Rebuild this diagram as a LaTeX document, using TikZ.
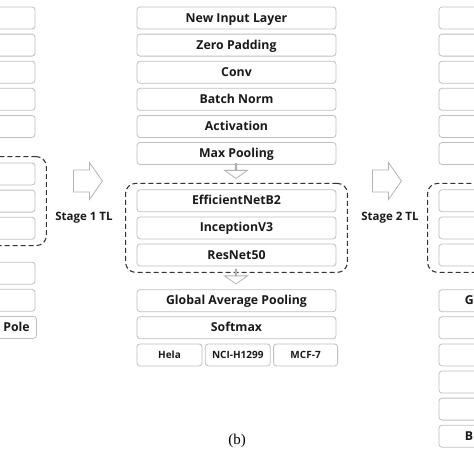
\documentclass[tikz,border=0pt]{standalone}
\usepackage{fontspec}
\setmainfont{Open Sans}
\newfontfamily\capfont{Liberation Serif}
\usetikzlibrary{positioning,fit,shapes.arrows}

\begin{document}
\begin{tikzpicture}[x=1pt,y=-1pt,node distance=4.3pt,
		layer/.style={draw=gray!50,line width=0.8pt,rounded corners=3pt,minimum width=199pt,minimum height=22pt,inner sep=0pt,text height=8.6pt,text depth=0.6pt,font=\bfseries\fontsize{12.3}{14}\selectfont,text=black!90},
		cell/.style={layer,minimum width=65pt,text height=7pt,text depth=0.5pt,font=\bfseries\fontsize{10}{12}\selectfont},
		part/.style={inner sep=0pt,text height=8.6pt,text depth=0.6pt,font=\bfseries\fontsize{12.3}{14}\selectfont,text=black!90},
		stagebox/.style={draw=black!80,line width=1.1pt,dash pattern=on 5pt off 3pt,rounded corners=10pt,inner xsep=11pt,inner ysep=6pt},
		stagelabel/.style={font=\bfseries\fontsize{11.5}{13}\selectfont,text=black!90},
		bigarrow/.style={single arrow,draw=gray!60,line width=0.8pt,inner xsep=0pt,inner ysep=10pt,minimum height=29pt,minimum width=37pt,single arrow tip angle=110,anchor=tail},
		smallarrow/.style={single arrow,draw=gray!60,line width=0.8pt,inner xsep=0pt,inner ysep=5pt,minimum height=15pt,minimum width=23pt,single arrow tip angle=110,shape border rotate=270,anchor=tail}]
		\useasboundingbox (0,0) rectangle (474,474);
		\clip (0,0) rectangle (474,474);

		% middle column
		\node[layer]						(m1)	at (236.5,18) {New Input Layer};
		\node[layer,below=of m1]			(m2)	{Zero Padding};
		\node[layer,below=of m2]			(m3)	{Conv};
		\node[layer,below=of m3]			(m4)	{Batch Norm};
		\node[layer,below=of m4]			(m5)	{Activation};
		\node[layer,below=of m5]			(m6)	{Max Pooling};
		\node[layer,below=24.5pt of m6]		(eff)	{EfficientNetB2};
		\node[layer,below=of eff]			(inc)	{InceptionV3};
		\node[layer,below=of inc]			(res)	{ResNet50};
		\node[layer,below=22.9pt of res]	(gap)	{Global Average Pooling};
		\node[layer,below=of gap]			(soft)	{Softmax};
		\node[cell,below right=4.3pt and 0pt of soft.south west]	(hela)	{Hela};
		\node[cell,right=2.5pt of hela]		(nci)	{NCI-H1299};
		\node[cell,right=2.5pt of nci,minimum width=64pt]	(mcf)	{MCF-7};
		\node[stagebox,fit=(eff)(res)]		(tlmid)	{};
		\node[smallarrow]	(dm1)	at (236,163) {};
		\node[smallarrow]	(dm2)	at (236,268.5) {};

		% left column
		\node[layer]						(l1)	at (-64.5,18) {};
		\node[layer,below=of l1]			(l2)	{};
		\node[layer,below=of l2]			(l3)	{};
		\node[layer,below=of l3]			(l4)	{};
		\node[layer,below=of l4]			(l5)	{};
		\node[layer,below=24.8pt of l5]		(l6)	{};
		\node[layer,below=of l6]			(l7)	{};
		\node[layer,below=of l7]			(l8)	{};
		\node[layer,below=22.2pt of l8]		(l9)	{};
		\node[layer,below=of l9]			(l10)	{};
		\node[layer,below=of l10,xshift=1.5pt]	(l11)	{};
		\node[part,left=7pt of l11.east]	(pole)	{Pole};
		\node[stagebox,fit=(l6)(l8)]		(tlleft) {};

		% right column
		\node[layer]						(r1)	at (538.5,18) {};
		\node[layer,below=of r1]			(r2)	{};
		\node[layer,below=of r2]			(r3)	{};
		\node[layer,below=of r3]			(r4)	{};
		\node[layer,below=of r4]			(r5)	{};
		\node[layer,below=of r5]			(r6)	{};
		\node[layer,below=24.5pt of r6]		(r7)	{};
		\node[layer,below=of r7]			(r8)	{};
		\node[layer,below=of r8]			(r9)	{};
		\node[layer,below=22.9pt of r9]		(r10)	{};
		\node[layer,below=of r10]			(r11)	{};
		\node[layer,below=of r11]			(r12)	{};
		\node[layer,below=of r12]			(r13)	{};
		\node[layer,below=of r13]			(r14)	{};
		\node[layer,below=of r14]			(r15)	{};
		\node[part,right=26pt of r10.west]	(rg)	{G};
		\node[part,right=26pt of r15.west]	(rb)	{B};
		\node[stagebox,fit=(r7)(r9)]		(tlright) {};

		% stages
		\node[bigarrow]		(a1)	at (73,181) {};
		\node[bigarrow]		(a2)	at (372,181) {};
		\node[stagelabel]	(s1)	at (84,218) {Stage 1 TL};
		\node[stagelabel]	(s2)	at (390,218) {Stage 2 TL};

		\node[font=\capfont\fontsize{15}{17}\selectfont]	(cap)	at (237,441) {(b)};
	\end{tikzpicture}
\end{document}
